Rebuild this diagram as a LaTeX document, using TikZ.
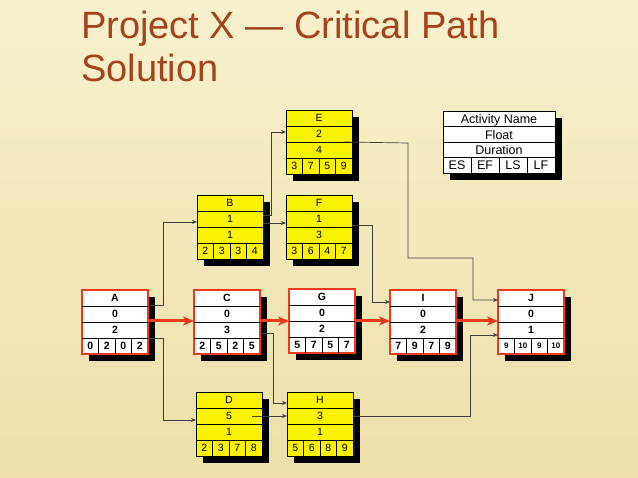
\documentclass[tikz,border=0pt]{standalone}
\usepackage{fontspec}
\setmainfont{Liberation Sans}
\usetikzlibrary{arrows.meta}
\definecolor{bgtop}{HTML}{F8F1CC}
\definecolor{bgbot}{HTML}{ECE0A8}
\definecolor{ttl}{HTML}{A4441C}
\definecolor{yel}{HTML}{FAF200}
\definecolor{crit}{HTML}{EE3A1C}
\tikzset{
  x=1pt,y=1pt,
  boxbase/.style={draw=black,line width=0.5pt,minimum width=66pt,minimum height=64pt,inner sep=0pt,outer sep=0pt},
  critbox/.style={fill=white,draw=crit,line width=2.6pt},
  normbox/.style={fill=yel},
  crittxt/.style={font=\fontsize{10.5}{12}\selectfont\bfseries},
  normtxt/.style={font=\fontsize{10.5}{12}\selectfont},
  txt/.style={inner sep=0pt},
  conn/.style={draw=black!75,line width=0.7pt,-{Stealth[length=5pt,width=4pt]}},
  critarrow/.style={draw=crit,line width=3pt,-{Stealth[length=11pt,width=9pt,inset=3pt]}}
}
% #1 name #2 x #3 y #4 kind #5 act #6 float #7 dur #8 bottom list
\newcommand\actbox[8]{%
  \fill[black] (#2+7,-#3-7) rectangle ++(66,-64);
  \node[boxbase,#4box] (#1) at (#2+33,-#3-32) {};
  \foreach \k in {1,2,3}
    \draw[black,line width=0.5pt] ([yshift=-\k*16pt]#1.north west) -- ([yshift=-\k*16pt]#1.north east);
  \foreach \k in {1,2,3}
    \draw[black,line width=0.5pt] ([xshift=\k*16.5pt]#1.south west) -- ([xshift=\k*16.5pt,yshift=16pt]#1.south west);
  \node[txt,#4txt] (#1-n) at ([yshift=-8pt]#1.north) {#5};
  \node[txt,#4txt] (#1-f) at ([yshift=-24pt]#1.north) {#6};
  \node[txt,#4txt] (#1-d) at ([yshift=-40pt]#1.north) {#7};
  \foreach \v [count=\i] in {#8}
    \node[txt,#4txt] (#1-b\i) at ([xshift=\i*16.5pt-8.25pt,yshift=8pt]#1.south west) {\v};
}
\begin{document}
\begin{tikzpicture}
\shade[top color=bgtop,bottom color=bgbot] (0,0) rectangle (638,-478);
\useasboundingbox (0,0) rectangle (638,-478);
\node[anchor=north west,text=ttl,font=\fontsize{38}{43}\selectfont,align=left,inner sep=0pt] (title) at (81,-11) {Project X — Critical Path\\Solution};

\actbox{A}{82}{290}{crit}{A}{0}{2}{0,2,0,2}
\actbox{C}{194}{290}{crit}{C}{0}{3}{2,5,2,5}
\actbox{G}{289}{289}{crit}{G}{0}{2}{5,7,5,7}
\actbox{I}{390}{290}{crit}{I}{0}{2}{7,9,7,9}
\actbox{J}{498}{290}{crit}{J}{0}{1}{{\fontsize{8}{10}\selectfont 9},{\fontsize{8}{10}\selectfont 10},{\fontsize{8}{10}\selectfont 9},{\fontsize{8}{10}\selectfont 10}}
\actbox{B}{197}{195}{norm}{B}{1}{1}{2,3,3,4}
\actbox{F}{286}{195}{norm}{F}{1}{3}{3,6,4,7}
\actbox{E}{286}{110}{norm}{E}{2}{4}{3,7,5,9}
\actbox{D}{196}{392}{norm}{D}{5}{1}{2,3,7,8}
\actbox{H}{287}{392}{norm}{H}{3}{1}{5,6,8,9}

% legend
\fill[black] (450,-118) rectangle ++(112,-62);
\node[boxbase,fill=white,minimum width=112pt,minimum height=62pt] (L) at (499,-142) {};
\foreach \k in {1,2,3}
  \draw[black,line width=0.5pt] ([yshift=-\k*15.5pt]L.north west) -- ([yshift=-\k*15.5pt]L.north east);
\foreach \k in {1,2,3}
  \draw[black,line width=0.5pt] ([xshift=\k*28pt]L.south west) -- ([xshift=\k*28pt,yshift=15.5pt]L.south west);
\node[txt,font=\fontsize{12.5}{14}\selectfont] (L-n) at ([yshift=-9pt]L.north) {Activity Name};
\node[txt,font=\fontsize{12.5}{14}\selectfont] (L-f) at ([yshift=-24pt]L.north) {Float};
\node[txt,font=\fontsize{12.5}{14}\selectfont] (L-d) at ([yshift=-39.5pt]L.north) {Duration};
\node[txt,font=\fontsize{12.5}{14}\selectfont] (L-a) at ([xshift=14pt,yshift=7.5pt]L.south west) {ES};
\node[txt,font=\fontsize{12.5}{14}\selectfont] (L-b) at ([xshift=42pt,yshift=7.5pt]L.south west) {EF};
\node[txt,font=\fontsize{12.5}{14}\selectfont] (L-c) at ([xshift=70pt,yshift=7.5pt]L.south west) {LS};
\node[txt,font=\fontsize{12.5}{14}\selectfont] (L-e) at ([xshift=98pt,yshift=7.5pt]L.south west) {LF};

% thin connectors
\draw[conn] ([yshift=-15pt]A.north east) -- ++(15,0) |- ([yshift=-27pt]B.north west);
\draw[conn] ([yshift=-48pt]A.north east) -- ++(15,0) |- ([yshift=-28pt]D.north west);
\draw[conn] ([yshift=-20pt]B.north east) -- ++(8,0) |- ([yshift=-22pt]E.north west);
\draw[conn] ([yshift=-28pt]B.north east) -- ([yshift=-28pt]F.north west);
\draw[conn] ([xshift=-8pt,yshift=-32pt]E.north east) -- (408,-143) -- (408,-258) -- (473,-258) |- ([yshift=-10pt]J.north west);
\draw[conn] ([yshift=-30pt]F.north east) -- (372,-225) |- ([yshift=-12pt]I.north west);
\draw[conn] ([yshift=-43pt]C.north east) -- (273,-333) |- ([yshift=-11pt]H.north west);
\draw[conn] ([xshift=-10pt,yshift=-24pt]D.north east) -- ([yshift=-24pt]H.north west);
\draw[conn] ([yshift=-24pt]H.north east) -- (470,-416) |- ([yshift=-45pt]J.north west);

% critical path
\draw[critarrow] ([yshift=-31pt]A.north east) -- ([yshift=-31pt]C.north west);
\draw[critarrow] ([yshift=-31pt]C.north east) -- ([yshift=-32pt]G.north west);
\draw[critarrow] ([yshift=-32pt]G.north east) -- ([yshift=-31pt]I.north west);
\draw[critarrow] ([yshift=-31pt]I.north east) -- ([yshift=-31pt]J.north west);
\end{tikzpicture}
\end{document}
